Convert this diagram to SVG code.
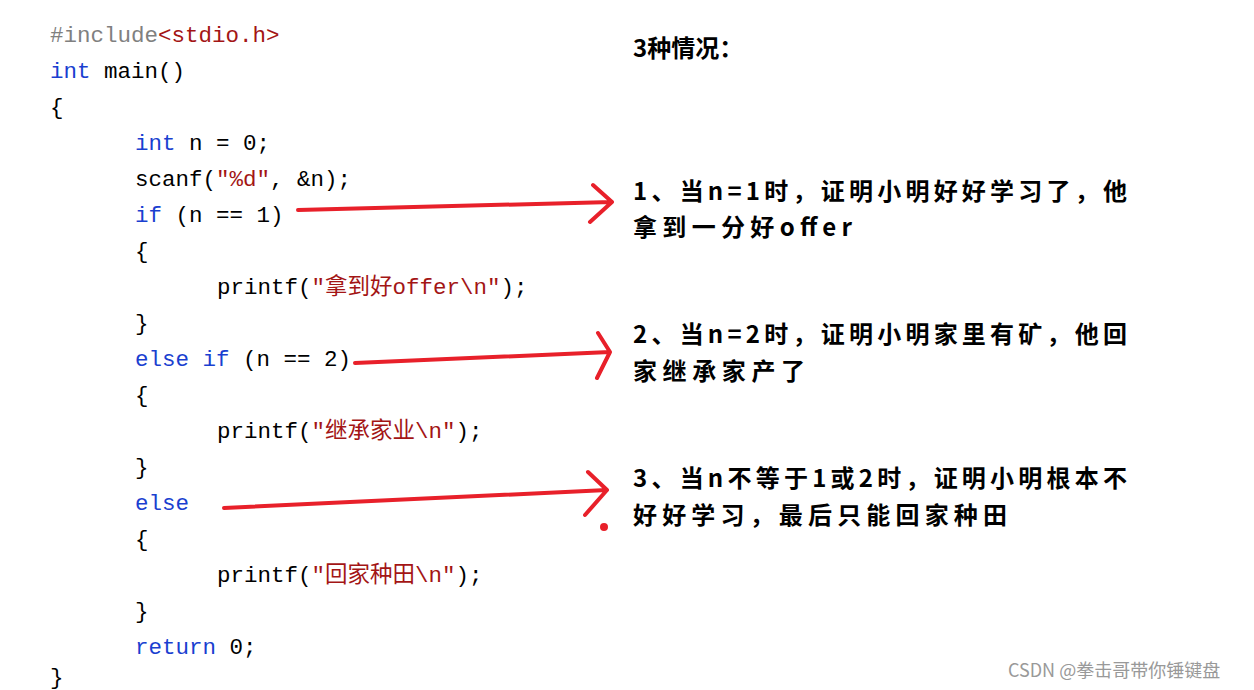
<svg xmlns="http://www.w3.org/2000/svg" width="1254" height="690" viewBox="0 0 1254 690">
<style>
.c{font-family:"Liberation Mono","Noto Sans CJK SC",monospace;font-size:22.5px;fill:#000}
.k{fill:#1a3fd0}.s{fill:#a31515}.p{fill:#808080}
.t{font-family:"Noto Sans CJK SC",sans-serif;font-size:24px;font-weight:bold;fill:#000}
.a{fill:none;stroke:#e8202a;stroke-width:4;stroke-linecap:round;stroke-linejoin:round}
</style>
<rect width="1254" height="690" fill="#fff"/>
<g id="code" class="c">
<text x="50" y="42"><tspan class="p">#include</tspan><tspan class="s">&lt;stdio.h&gt;</tspan></text>
<text x="50" y="78"><tspan class="k">int</tspan> main()</text>
<text x="50" y="114">{</text>
<text x="135" y="150"><tspan class="k">int</tspan> n = 0;</text>
<text x="135" y="186">scanf(<tspan class="s">"%d"</tspan>, &amp;n);</text>
<text x="135" y="222"><tspan class="k">if</tspan> (n == 1)</text>
<text x="135" y="258">{</text>
<text x="217" y="294">printf(<tspan class="s">"拿到好offer\n"</tspan>);</text>
<text x="135" y="330">}</text>
<text x="135" y="366"><tspan class="k">else if</tspan> (n == 2)</text>
<text x="135" y="402">{</text>
<text x="217" y="438">printf(<tspan class="s">"继承家业\n"</tspan>);</text>
<text x="135" y="474">}</text>
<text x="135" y="510" class="k">else</text>
<text x="135" y="546">{</text>
<text x="217" y="582">printf(<tspan class="s">"回家种田\n"</tspan>);</text>
<text x="135" y="618">}</text>
<text x="135" y="654"><tspan class="k">return</tspan> 0;</text>
<text x="50" y="684">}</text>
</g>
<g id="notes" class="t">
<text x="633" y="57">3种情况：</text>
<text x="633" y="200" textLength="494">1、当n=1时，证明小明好好学习了，他</text>
<text x="633" y="236" textLength="219">拿到一分好offer</text>
<text x="633" y="343" textLength="494">2、当n=2时，证明小明家里有矿，他回</text>
<text x="633" y="380" textLength="172">家继承家产了</text>
<text x="633" y="487" textLength="494">3、当n不等于1或2时，证明小明根本不</text>
<text x="633" y="524" textLength="374">好好学习，最后只能回家种田</text>
</g>
<g id="connectors" class="a">
<path d="M298 210 L612 202 M593 185 L612 202 L590 222"/>
<path d="M355 363 L610 352 M598 333 L610 352 L597 378"/>
<path d="M224 508 L607 490 M588 472 L607 490 L585 515"/>
<circle cx="604" cy="527" r="2" fill="#e8202a"/>
</g>
<text x="1008" y="677" style="font-family:'Noto Sans CJK SC',sans-serif;font-size:18px;fill:#999">CSDN @拳击哥带你锤键盘</text>
</svg>
